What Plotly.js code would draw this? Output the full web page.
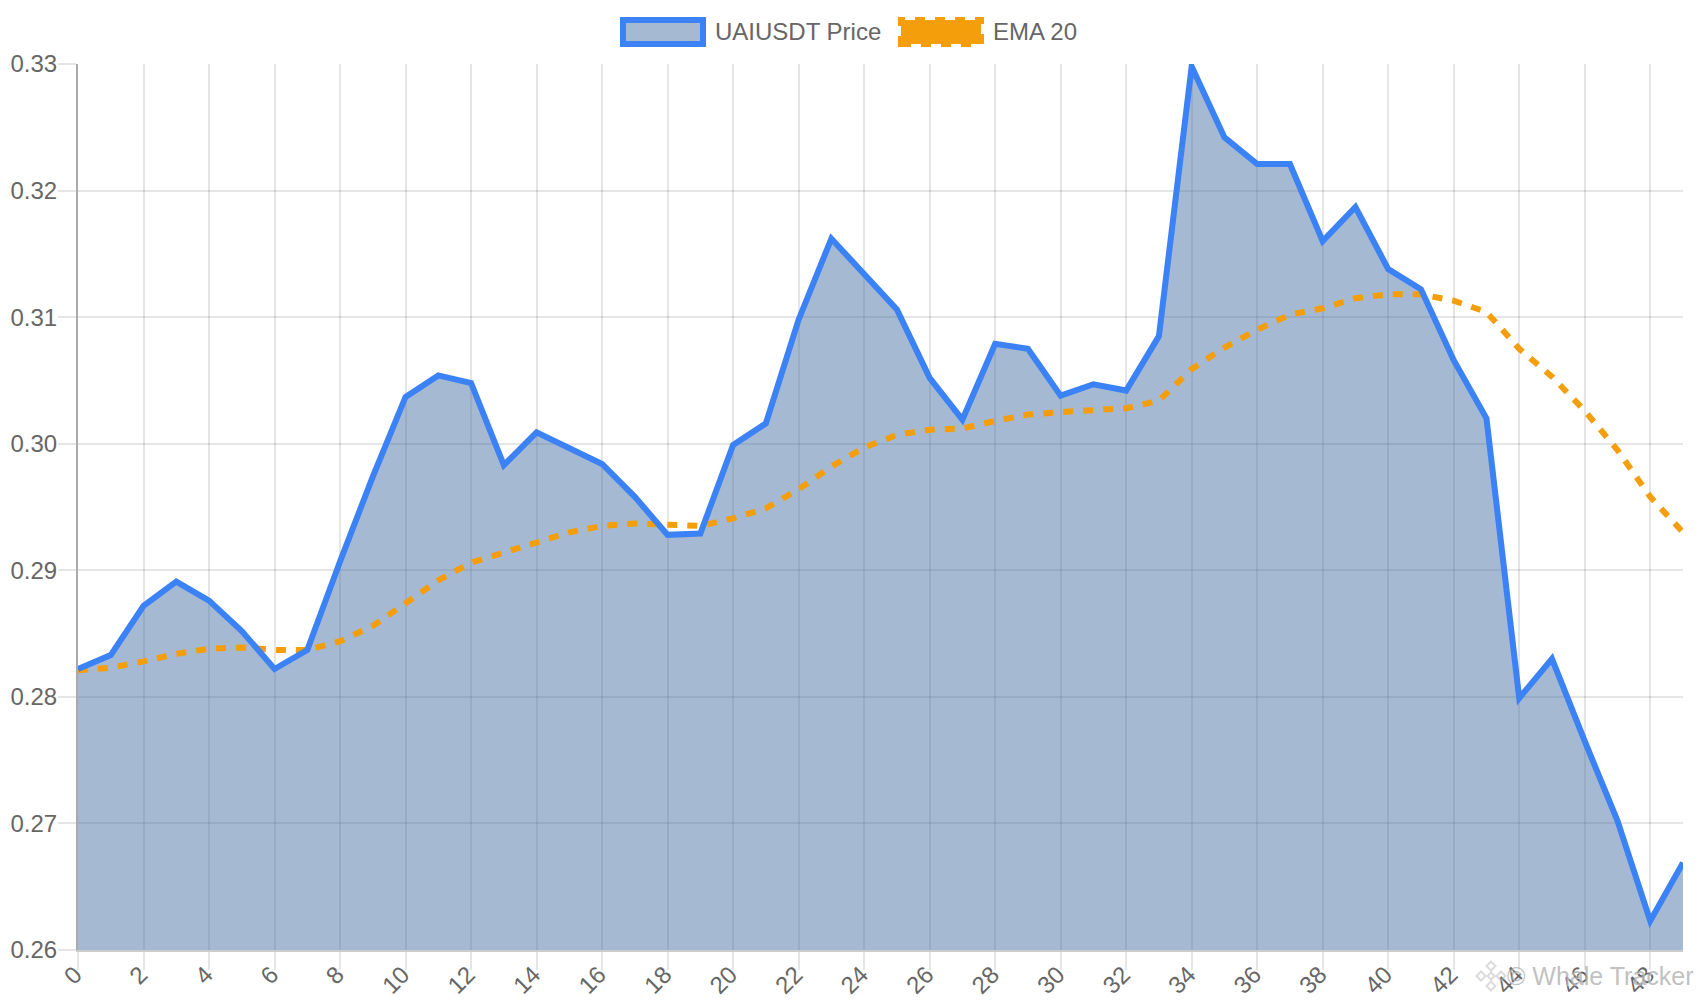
<!DOCTYPE html>
<html>
<head>
<meta charset="utf-8">
<script src="https://cdn.plot.ly/plotly-3.0.1.min.js"></script>
<style>
html,body{margin:0;padding:0;background:#fff;}
#chart{width:1700px;height:1000px;}
.scatterlayer .js-line{stroke-linejoin:miter !important;stroke-miterlimit:10 !important;}
</style>
</head>
<body>
<div id="chart"></div>
<script>
var categories = [0,1,2,3,4,5,6,7,8,9,10,11,12,13,14,15,16,17,18,19,20,21,22,23,24,25,26,27,28,29,30,31,32,33,34,35,36,37,38,39,40,41,42,43,44,45,46,47,48,49];
var priceValues = [0.2822,0.2833,0.2872,0.2891,0.2876,0.2852,0.2822,0.2837,0.2907,0.2974,0.3037,0.3054,0.3048,0.2983,0.3009,0.2997,0.2984,0.2958,0.2928,0.2929,0.2999,0.3016,0.3098,0.3162,0.3134,0.3106,0.3052,0.3019,0.3079,0.3075,0.3038,0.3047,0.3042,0.3085,0.3298,0.3242,0.3221,0.3221,0.3160,0.3187,0.3138,0.3122,0.3066,0.3020,0.2799,0.2830,0.2765,0.2702,0.2623,0.2669];
var emaValues = [0.2821,0.2823,0.2828,0.2834,0.2838,0.2839,0.2837,0.2837,0.2844,0.2856,0.2874,0.2892,0.2906,0.2914,0.2923,0.2930,0.2935,0.2937,0.2936,0.2935,0.2941,0.2949,0.2964,0.2982,0.2997,0.3007,0.3011,0.3012,0.3018,0.3023,0.3025,0.3027,0.3028,0.3034,0.3059,0.3076,0.3090,0.3102,0.3107,0.3115,0.3118,0.3118,0.3113,0.3104,0.3075,0.3053,0.3026,0.2995,0.2958,0.2930];
var xTickVals = [0,2,4,6,8,10,12,14,16,18,20,22,24,26,28,30,32,34,36,38,40,42,44,46,48];
var yTickVals = [0.26,0.27,0.28,0.29,0.30,0.31,0.32,0.33];
var priceName = 'UAIUSDT Price';
var emaName = 'EMA 20';
var watermark = '© Whale Tracker';

var BLUE = '#3b82f6', ORANGE = '#f59e0b', FILL = 'rgba(77,115,167,0.5)', GRID = 'rgba(0,0,0,0.1)', TEXT = '#666666';
var FONT = '"Liberation Sans", Arial, sans-serif';
var L = 78, R = 17, T = 64, B = 50, W = 1700, H = 1000;
function px(x){ return (x - L) / (W - L - R); }
function py(y){ return (H - B - y) / (H - T - B); }
function diamond(cx, cy, r){
  return 'M' + px(cx) + ',' + py(cy - r) + ' L' + px(cx + r) + ',' + py(cy) + ' L' + px(cx) + ',' + py(cy + r) + ' L' + px(cx - r) + ',' + py(cy) + ' Z';
}
var wmColor = 'rgba(165,165,165,0.7)';
var logoColor = 'rgba(190,190,190,0.55)';
function logoPart(cx, cy, r){
  return {type:'path', xref:'paper', yref:'paper', path:diamond(cx, cy, r), fillcolor:'rgba(0,0,0,0)', line:{color:logoColor, width:2}, layer:'above'};
}

var traces = [
  {x:categories, y:priceValues, type:'scatter', mode:'none', fill:'tozeroy', fillcolor:FILL, showlegend:false, hoverinfo:'skip'},
  {x:categories, y:emaValues, type:'scatter', mode:'lines', name:emaName, line:{color:ORANGE, width:6, dash:'10px,10px'}, showlegend:false},
  {x:categories, y:priceValues, type:'scatter', mode:'lines', name:priceName, line:{color:BLUE, width:6}, cliponaxis:false, showlegend:false}
];

var layout = {
  width:W, height:H,
  margin:{l:L, r:R, t:T, b:B, pad:0},
  paper_bgcolor:'#ffffff', plot_bgcolor:'#ffffff',
  font:{family:FONT, size:24, color:TEXT},
  showlegend:false,
  xaxis:{
    range:[0,49], tickmode:'array', tickvals:xTickVals, ticktext:xTickVals.map(String),
    tickangle:-45, showgrid:true, gridcolor:GRID, gridwidth:2, zeroline:false,
    showline:true, linecolor:'rgba(0,0,0,0.2)', linewidth:2,
    ticks:'outside', ticklen:18, tickwidth:2, tickcolor:GRID,
    ticklabelstandoff:-19, ticklabelshift:-3,
    tickfont:{family:FONT, size:24, color:TEXT}
  },
  yaxis:{
    range:[0.26,0.33], tickmode:'array', tickvals:yTickVals, tickformat:'.2f',
    showgrid:true, gridcolor:GRID, gridwidth:2, zeroline:false,
    showline:true, linecolor:'#aaaaaa', linewidth:2,
    ticks:'outside', ticklen:18, tickwidth:2, tickcolor:GRID,
    ticklabelstandoff:-4,
    tickfont:{family:FONT, size:24, color:TEXT}
  },
  shapes:[
    {type:'rect', xref:'paper', yref:'paper', x0:px(623), x1:px(703), y0:py(44), y1:py(20), fillcolor:FILL, line:{color:BLUE, width:6}},
    {type:'rect', xref:'paper', yref:'paper', x0:px(901), x1:px(981), y0:py(44), y1:py(20), fillcolor:ORANGE, line:{color:ORANGE, width:6, dash:'10px,10px'}},
    logoPart(1491, 966, 4.5), logoPart(1491, 986, 4.5), logoPart(1481, 976, 4.5), logoPart(1501, 976, 4.5), logoPart(1491, 976, 3.5)
  ],
  annotations:[
    {xref:'paper', yref:'paper', x:px(713), y:py(31), xanchor:'left', yanchor:'middle', text:priceName, showarrow:false, font:{family:FONT, size:24, color:TEXT}},
    {xref:'paper', yref:'paper', x:px(991), y:py(31), xanchor:'left', yanchor:'middle', text:emaName, showarrow:false, font:{family:FONT, size:24, color:TEXT}},
    {xref:'paper', yref:'paper', x:px(1505), y:py(976), xanchor:'left', yanchor:'middle', text:watermark, showarrow:false, font:{family:FONT, size:25, color:wmColor, shadow:'1px 1px 1px rgba(255,255,255,0.8)'}}
  ]
};

Plotly.newPlot('chart', traces, layout, {displayModeBar:false, responsive:false});
</script>
</body>
</html>
